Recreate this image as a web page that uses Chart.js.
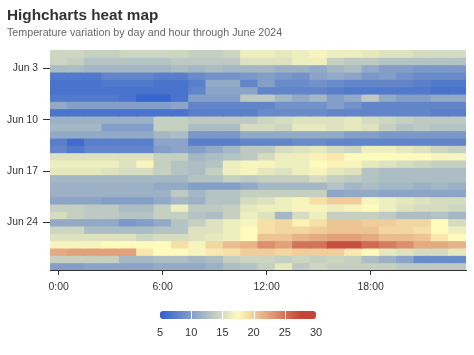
<!DOCTYPE html>
<html><head><meta charset="utf-8">
<script src="https://cdn.jsdelivr.net/npm/chart.js@4"></script>
<style>html,body{margin:0;padding:0;background:#fff}#wrap{width:474px;height:355px}</style>
</head><body><div id="wrap"><canvas id="c" width="474" height="355"></canvas></div>
<script>
const hours = ['0:00','1:00','2:00','3:00','4:00','5:00','6:00','7:00','8:00','9:00','10:00','11:00',
  '12:00','13:00','14:00','15:00','16:00','17:00','18:00','19:00','20:00','21:00','22:00','23:00'];
const days = ['Jun 1','Jun 2','Jun 3','Jun 4','Jun 5','Jun 6','Jun 7','Jun 8','Jun 9','Jun 10',
  'Jun 11','Jun 12','Jun 13','Jun 14','Jun 15','Jun 16','Jun 17','Jun 18','Jun 19','Jun 20',
  'Jun 21','Jun 22','Jun 23','Jun 24','Jun 25','Jun 26','Jun 27','Jun 28','Jun 29','Jun 30'];
const yTickDays = [3, 10, 17, 24];
const xTickHours = [0, 6, 12, 18];
const legendTicks = [5, 10, 15, 20, 25, 30];
const colorMin = 5, colorMax = 30;
const colorStops = [[0, '#3060cf'], [0.5, '#fffbbc'], [0.9, '#c4463a'], [1, '#c4463a']];

// temperatures (°C) per day, hours 0..23
const jun01 = [14.5,14.5,14,14,14.5,14.5,14.5,14.5, 14,14,14.5,16.5,16.5,16,16.5,17, 16.5,16.5,16,15.5,15.5,15,15,15];
const jun02 = [14.5,14,13,13,13,13,13,13.5, 13.5,13.5,13.5,15.5,15.5,15.5,16.5,16.5, 14,13.5,13.5,13,13,13,13,13];
const jun03 = [12.5,12.5,12,12,12,12,12,12.5, 12,12.5,12,12,12,11.5,11.5,11, 12,12.5,11,10,10,9.5,9.5,9.5];
const jun04 = [7,7,7,8,8,8,7.5,7.5, 8.5,9,9,9.5,10,9.5,9,10.5, 11,10.5,9.5,10,9,8.5,8.5,8.5];
const jun05 = [6.5,6.5,6.5,7,7,7,6.5,6.5, 7.5,11,11,8,10,8.5,8.5,9, 8.5,8,8,8,8,7.5,7,7];
const jun06 = [6.5,6.5,6.5,6.5,6.5,6.5,6.5,6.5, 8,10.5,10.5,10.5,8,8,8,8, 7.5,7,7,7,7,7,6.5,6.5];
const jun07 = [7,7,7,7,6.5,5.5,5.5,6.5, 10,10,10,13.5,13.5,12,11,12, 10,11,13.5,11,10,10,11,11];
const jun08 = [11,10,10,10,10,10,10,10.5, 8,8,8,8,8,9,9,9, 10,9,8,8,8,8,8,8];
const jun09 = [6.5,6.5,6.5,6.5,6.5,6.5,6.5,6.5, 7.5,7.5,7.5,7.5,8.5,8.5,8.5,8.5, 8,8,8,8,8,8,7.5,7.5];
const jun10 = [11.5,11.5,11.5,11.5,11.5,11.5,14,14, 13.5,13.5,13.5,13.5,14.5,15,15.5,15.5, 15.5,16,15,14.5,14,13.5,13.5,13.5];
const jun11 = [12,12,12,10,10,10,14,14, 12.5,12.5,12.5,15,15,14.5,16,16, 15.5,16,15.5,14,13,13.5,13,13];
const jun12 = [11,11,11,11,11,11,12,12.5, 9.5,9.5,9.5,11,11,11,11,11, 11,10,10,9.5,9.5,9.5,9.5,9.5];
const jun13 = [7.5,6,7.5,7.5,7.5,7.5,10.5,10.5, 7.5,7.5,7.5,8,8,8,8.5,8.5, 8,8,8,8,8,8,8,8];
const jun14 = [8,7,8,8,8,8,10,10.5, 10,11,12,13.5,13.5,15,15.5,16, 15,14.5,16.5,16.5,16,15.5,14.5,14];
const jun15 = [15.5,15.5,15.5,15.5,15.5,15.5,14,14, 12,12.5,13,13.5,15,16.5,16.5,18, 18.5,17.5,17.5,17.5,17.5,17.5,17,17];
const jun16 = [16.5,16.5,16.5,16.5,15.5,17,14,13, 12.5,13,16.5,17,17,16.5,16.5,17.5, 18,17,16,15.5,15,14.5,14,14];
const jun17 = [16,16,16,15.5,15,15,14,13, 12.5,14,16.5,17,16,15.5,16.5,17, 16,15.5,13,12.5,12.5,12.5,12.5,12.5];
const jun18 = [12,12,12,12,12,12,12,12, 13,13,14,13.5,14,14,14,15, 14,13.5,13,12.5,12.5,12.5,12.5,12.5];
const jun19 = [11.5,11.5,11.5,11.5,11.5,11.5,11,11, 10,10,10,11,12,12,12,12, 13,12,12.5,12,12,11.5,12,11.5];
const jun20 = [11.5,11.5,11.5,11.5,11.5,11.5,11.5,13.5, 12,13,13,14,14,14,14,14, 10.5,11,11,10.5,10.5,10.5,10.5,10.5];
const jun21 = [10.5,10.5,10.5,10,10,10,11,12, 11.5,13,13,15,15.5,16.5,17,19, 20,20,17,16.5,16,15.5,15,15];
const jun22 = [14,14,13.5,13.5,12.5,12.5,14,16.5, 13.5,13.5,14,16,16.5,16.5,17,17, 16.5,17,17.5,16.5,15.5,15,15,14.5];
const jun23 = [15,14,13.5,13.5,13,13,14,14, 13,12.5,14,16.5,15.5,12,15,16.5, 14,14,14,13.5,12.5,12.5,13,12];
const jun24 = [11,11,11,11,9.5,10,11,13, 14,15.5,16.5,17,19,19.5,18,19, 20.5,20.5,20,20,19.5,19.5,17.5,15];
const jun25 = [14.5,14.5,12.5,12.5,12.5,12.5,13,13, 15.5,15.5,16.5,17.5,19,19.5,19.5,20, 20.5,20.5,20.5,19.5,19.5,19,17.5,16.5];
const jun26 = [15.5,15.5,15.5,15.5,15.5,14.5,15,15, 15.5,16,16.5,17.5,20.5,20.5,21.5,22, 22.5,22.5,22,21,21,20.5,18.5,17.5];
const jun27 = [17,17,17,17.5,17.5,17.5,17.5,19, 17,19.5,21,21.5,23.5,22.5,25,25, 27,27,25.5,24.5,23.5,22,22,21.5];
const jun28 = [22,22.5,22.5,22.5,22.5,18.5,17.5,17.5, 17,18.5,19,20,20,19.5,20,20, 20,18.5,17.5,16,15.5,15,15,16];
const jun29 = [14,14,14,14,12,12,12.5,12.5, 12,12.5,14,14.5,14.5,14,14.5,14, 14.5,14,12.5,11.5,10.5,8.5,8.5,8.5];
const jun30 = [10,10,10.5,10.5,10.5,10.5,11,11, 11,11.5,12.5,13,14,16,13.5,14.5, 14,14,14,14,13.5,13.5,13.5,13.5];

const temps = [jun01,jun02,jun03,jun04,jun05,jun06,jun07,jun08,jun09,jun10,jun11,jun12,jun13,jun14,jun15,
  jun16,jun17,jun18,jun19,jun20,jun21,jun22,jun23,jun24,jun25,jun26,jun27,jun28,jun29,jun30];

function hexToRgb(h){ return [parseInt(h.slice(1,3),16), parseInt(h.slice(3,5),16), parseInt(h.slice(5,7),16)]; }
const stopsRgb = colorStops.map(s => [s[0], hexToRgb(s[1])]);
function colorFor(v){
  let t = (v - colorMin) / (colorMax - colorMin);
  t = Math.max(0, Math.min(1, t));
  for (let i = 1; i < stopsRgb.length; i++) {
    const [p0, c0] = stopsRgb[i-1], [p1, c1] = stopsRgb[i];
    if (t <= p1) {
      const f = p1 === p0 ? 0 : (t - p0) / (p1 - p0);
      const c = c0.map((a, k) => Math.round(a + (c1[k] - a) * f));
      return `rgb(${c[0]},${c[1]},${c[2]})`;
    }
  }
  const c = stopsRgb[stopsRgb.length-1][1];
  return `rgb(${c[0]},${c[1]},${c[2]})`;
}

const FONT = '"Liberation Sans", Arial, Helvetica, sans-serif';

const decorPlugin = {
  id: 'decor',
  afterDraw(chart) {
    const ctx = chart.ctx;
    ctx.save();
    ctx.textAlign = 'left';
    ctx.textBaseline = 'alphabetic';
    ctx.fillStyle = '#333333';
    ctx.font = 'bold 15.3px ' + FONT;
    ctx.fillText('Highcharts heat map', 7, 19.5);
    ctx.fillStyle = '#666666';
    ctx.font = '10.7px ' + FONT;
    ctx.fillText('Temperature variation by day and hour through June 2024', 7, 36);
    const x0 = 160, x1 = 316, y0 = 311, h = 8;
    const g = ctx.createLinearGradient(x0, 0, x1, 0);
    colorStops.forEach(s => g.addColorStop(s[0], s[1]));
    ctx.fillStyle = g;
    ctx.beginPath();
    ctx.roundRect(x0, y0, x1 - x0, h, 3);
    ctx.fill();
    const px = v => x0 + (v - colorMin) / (colorMax - colorMin) * (x1 - x0);
    ctx.strokeStyle = '#ffffff';
    ctx.lineWidth = 1;
    legendTicks.slice(1, -1).forEach(v => {
      const x = Math.round(px(v)) + 0.5;
      ctx.beginPath(); ctx.moveTo(x, y0); ctx.lineTo(x, y0 + h); ctx.stroke();
    });
    ctx.fillStyle = '#333333';
    ctx.font = '11px ' + FONT;
    ctx.textAlign = 'center';
    ctx.textBaseline = 'middle';
    legendTicks.forEach(v => ctx.fillText(String(v), px(v), 332.5));
    ctx.restore();
  }
};

const datasets = days.map((label, i) => ({
  label,
  data: hours.map(() => 1),
  backgroundColor: temps[i].map(colorFor),
  borderWidth: 0,
  inflateAmount: 0.5,
  barPercentage: 1,
  categoryPercentage: 1,
  stack: 'days'
}));

new Chart(document.getElementById('c'), {
  type: 'bar',
  data: { labels: hours, datasets },
  options: {
    responsive: false,
    devicePixelRatio: 1,
    animation: false,
    layout: { padding: { left: 0, right: 8, top: 50, bottom: 55 } },
    plugins: { legend: { display: false }, tooltip: { enabled: false }, title: { display: false } },
    scales: {
      x: {
        stacked: true,
        offset: true,
        grid: {
          offset: false,
          drawOnChartArea: false,
          tickLength: 5,
          lineWidth: 1,
          color: ctx => (xTickHours.includes(ctx.index) ? '#333333' : 'rgba(0,0,0,0)')
        },
        border: { display: true, color: '#333333', width: 1 },
        ticks: {
          autoSkip: false, maxRotation: 0, minRotation: 0, padding: 6,
          color: '#333333', font: { family: FONT, size: 10.5 },
          callback: (v, i) => (xTickHours.includes(i) ? hours[i] : '')
        },
        afterFit: s => { s.height = 30; }
      },
      y: {
        type: 'linear',
        stacked: true,
        reverse: true,
        min: 0, max: 30,
        grid: { drawOnChartArea: false, tickLength: 7, color: '#333333', lineWidth: 1 },
        border: { display: false },
        ticks: {
          padding: 5, color: '#333333', font: { family: FONT, size: 10.3 },
          callback: v => 'Jun ' + (v + 0.5)
        },
        afterBuildTicks: s => { s.ticks = yTickDays.map(d => ({ value: d - 0.5 })); },
        afterFit: s => { s.width = 50; }
      }
    }
  },
  plugins: [decorPlugin]
});
</script></body></html>
